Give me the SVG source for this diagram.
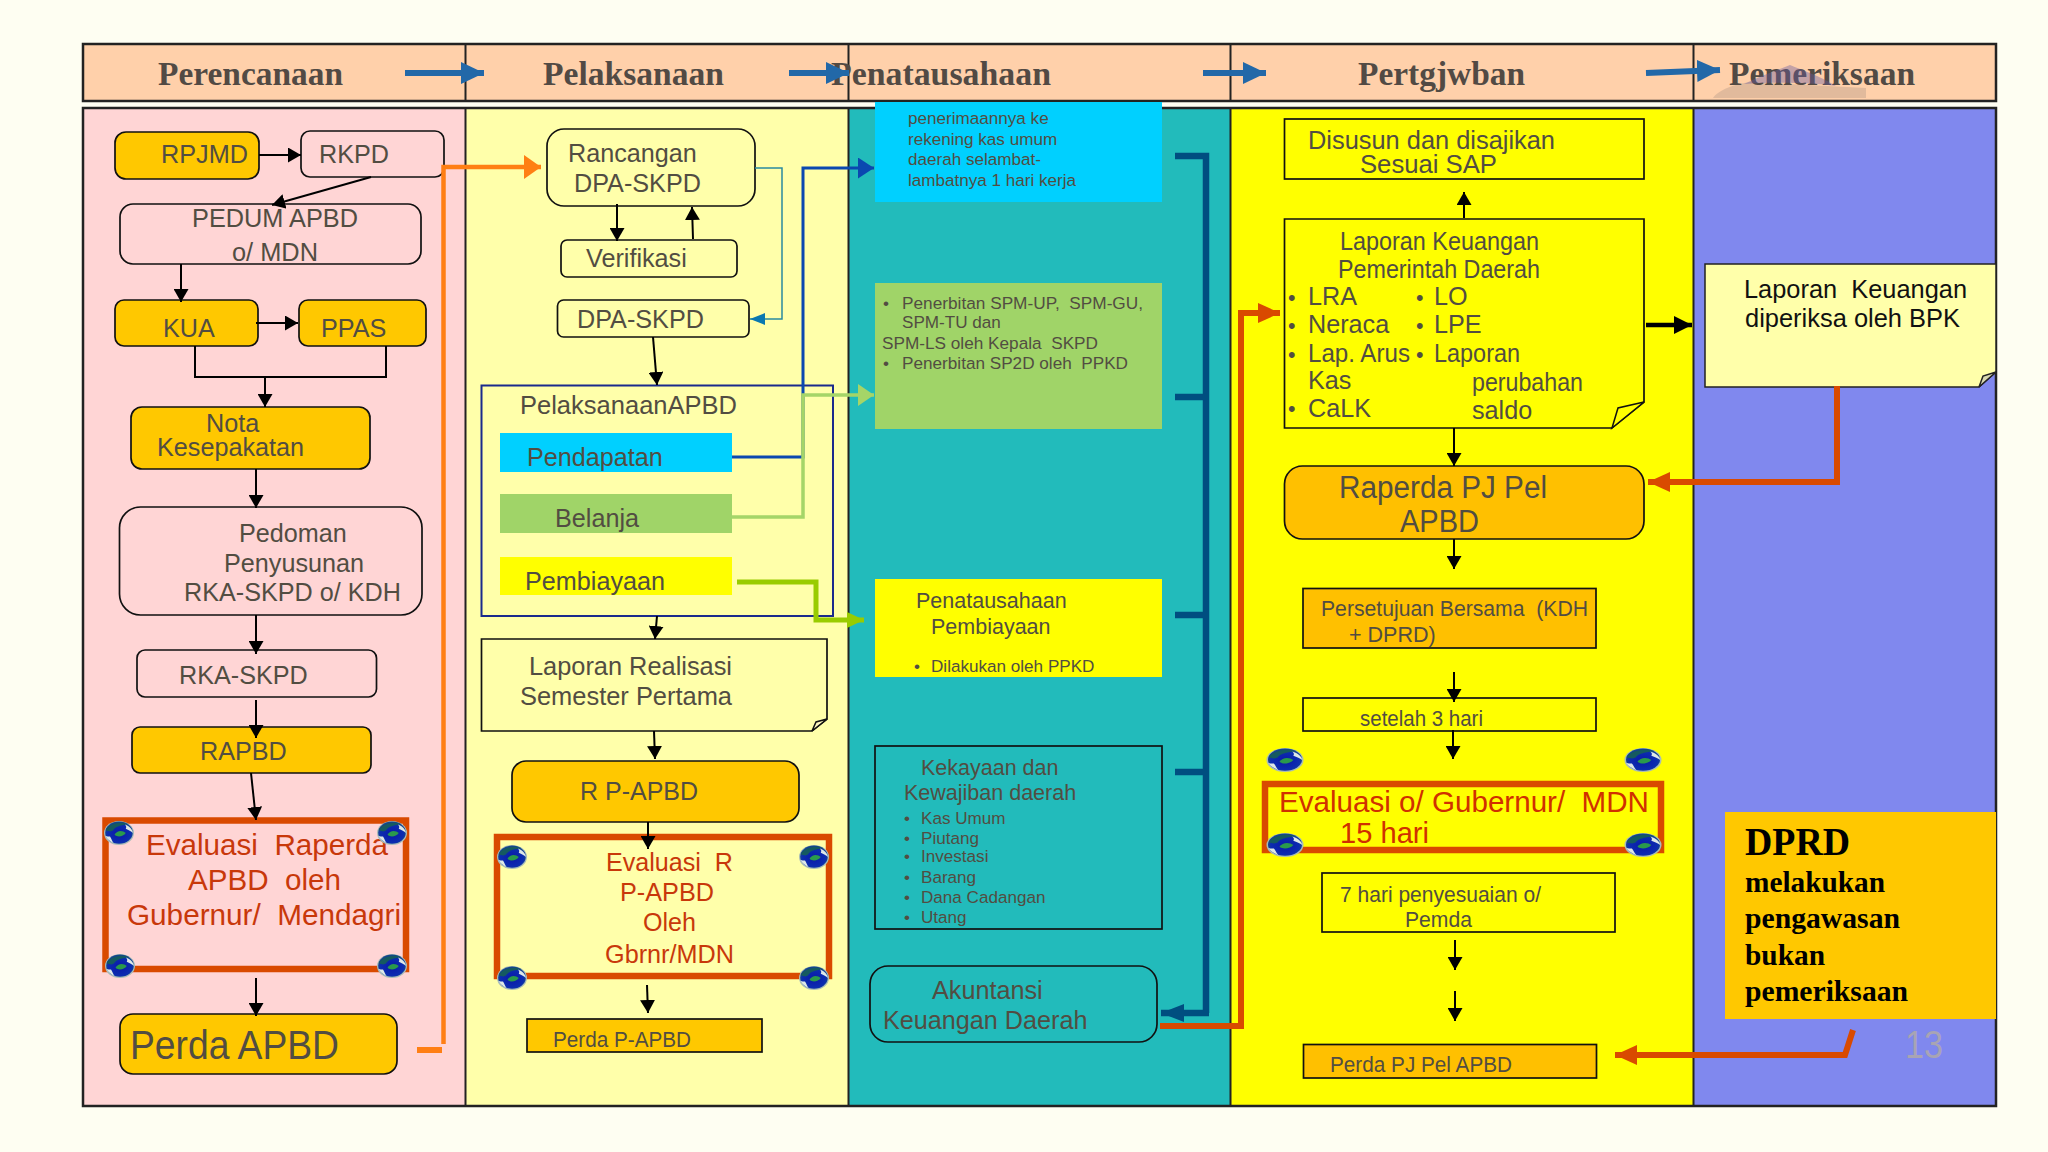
<svg xmlns="http://www.w3.org/2000/svg" width="2048" height="1152" viewBox="0 0 2048 1152">
<style>
text{font-family:"Liberation Sans",Arial,sans-serif;fill:#524d42;white-space:pre}
.s26{font-size:25.2px}.s22{font-size:21.5px}.s17{font-size:17.1px}.s30{font-size:30px}
.hd{font-family:"Liberation Serif","Times New Roman",serif;font-weight:bold;font-size:34px;fill:#524a44}
.dp{font-family:"Liberation Serif","Times New Roman",serif;font-weight:bold;font-size:30px;fill:#000}
.red{fill:#c8380a}.blk{fill:#111}
.box{stroke:#111;stroke-width:1.700;fill:none}
.gold{stroke:#111;stroke-width:1.700;fill:#ffc800}
.ev{stroke:#d94a00;stroke-width:6.500;fill:none}
.ln{stroke:#000;stroke-width:2;fill:none;marker-end:url(#ah)}
.pl{stroke:#000;stroke-width:2;fill:none}
.flap{fill:#fff8c0;stroke:#111;stroke-width:1.500}
</style>
<defs>
<marker id="ah" markerUnits="userSpaceOnUse" markerWidth="13" markerHeight="15" viewBox="0 0 13 15" refX="13" refY="7.500" orient="auto"><path d="M0 0L13 7.500L0 15Z" fill="#000"/></marker>
<marker id="ahHd" markerUnits="userSpaceOnUse" markerWidth="23" markerHeight="22" viewBox="0 0 23 22" refX="23" refY="11" orient="auto"><path d="M0 0L23 11L0 22Z" fill="#2268a8"/></marker>
<marker id="ahOr" markerUnits="userSpaceOnUse" markerWidth="17" markerHeight="24" viewBox="0 0 17 24" refX="17" refY="12" orient="auto"><path d="M0 0L17 12L0 24Z" fill="#ff7f14"/></marker>
<marker id="ahBl" markerUnits="userSpaceOnUse" markerWidth="16" markerHeight="21" viewBox="0 0 16 21" refX="16" refY="10.500" orient="auto"><path d="M0 0L16 10.500L0 21Z" fill="#0a48b0"/></marker>
<marker id="ahTl" markerUnits="userSpaceOnUse" markerWidth="15" markerHeight="12" viewBox="0 0 15 12" refX="15" refY="6" orient="auto"><path d="M0 0L15 6L0 12Z" fill="#0a78b0"/></marker>
<marker id="ahGr" markerUnits="userSpaceOnUse" markerWidth="16" markerHeight="22" viewBox="0 0 16 22" refX="16" refY="11" orient="auto"><path d="M0 0L16 11L0 22Z" fill="#a5d568"/></marker>
<marker id="ahLm" markerUnits="userSpaceOnUse" markerWidth="17" markerHeight="16" viewBox="0 0 17 16" refX="17" refY="8" orient="auto"><path d="M0 0L17 8L0 16Z" fill="#99cc00"/></marker>
<marker id="ahRd" markerUnits="userSpaceOnUse" markerWidth="22" markerHeight="20" viewBox="0 0 22 20" refX="22" refY="10" orient="auto"><path d="M0 0L22 10L0 20Z" fill="#d94a00"/></marker>
<marker id="ahNv" markerUnits="userSpaceOnUse" markerWidth="23" markerHeight="18" viewBox="0 0 23 18" refX="23" refY="9" orient="auto"><path d="M0 0L23 9L0 18Z" fill="#004e80"/></marker>
<marker id="ahBk" markerUnits="userSpaceOnUse" markerWidth="18" markerHeight="18" viewBox="0 0 18 18" refX="18" refY="9" orient="auto"><path d="M0 0L18 9L0 18Z" fill="#000"/></marker>
<radialGradient id="gl" cx="0.5" cy="0.55" r="0.55"><stop offset="0" stop-color="#0a18a8"/><stop offset="0.75" stop-color="#0c2cb0"/><stop offset="1" stop-color="#184c84"/></radialGradient>
<g id="globe"><circle r="10" fill="#a8bcb8"/><circle cy="-0.300" r="9.200" fill="url(#gl)"/><path d="M-8.800-2.500C-6-8.500 2-10 6-7C2-7-3-5-4-2C-5-1-7-1-8.800-2.500Z" fill="#155a60"/><path d="M-3 1.500C-1.500-2.500 2.500-2.500 4.500 0C3 3-1 4-3 1.500Z" fill="#2a9a4c"/><path d="M4-7C7-5.500 9-3 9.300 0C8-1.500 6.500-2.500 4.500-3.500C5-4.500 5-5.500 4-7Z" fill="#dfe9e6"/><path d="M-9 2.500C-8 5-6 7-3.500 8.500C-5 6.500-5 4.500-6 3C-7 3-8 3-9 2.500Z" fill="#dfe9e6"/></g>
</defs>
<rect id="page" width="2048" height="1152" fill="#fefef2"/>

<g id="header">
<rect x="83" y="44" width="1913" height="57" fill="#ffd0aa" stroke="#222" stroke-width="2.500"/>
<path d="M465.500 44V101M848.500 44V101M1230.500 44V101M1693.500 44V101" stroke="#222" stroke-width="2"/>
<path d="M1713 98C1718 90 1735 84 1750 82L1866 88L1866 98Z" fill="#c8a890" opacity="0.55"/>
<text class="hd" x="158" y="85" textLength="185" lengthAdjust="spacingAndGlyphs">Perencanaan</text>
<text class="hd" x="543" y="85" textLength="181" lengthAdjust="spacingAndGlyphs">Pelaksanaan</text>
<text class="hd" x="831" y="85" textLength="220" lengthAdjust="spacingAndGlyphs">Penatausahaan</text>
<text class="hd" x="1358" y="85" textLength="167" lengthAdjust="spacingAndGlyphs">Pertgjwban</text>
<text class="hd" x="1729" y="85" textLength="186" lengthAdjust="spacingAndGlyphs">Pemeriksaan</text>
<path d="M1744 84C1760 76 1778 70 1790 65C1802 70 1820 76 1836 86C1810 82 1770 82 1744 84Z" fill="#6a5aa0" opacity="0.4"/>
</g>

<g id="columns">
<rect x="83" y="108" width="383" height="998" fill="#ffd5d5"/>
<rect x="466" y="108" width="383" height="998" fill="#ffffaa"/>
<rect x="849" y="108" width="382" height="998" fill="#22bbbb"/>
<rect x="1231" y="108" width="463" height="998" fill="#ffff00"/>
<rect x="1694" y="108" width="302" height="998" fill="#8088ee"/>
<rect x="83" y="108" width="1913" height="998" fill="none" stroke="#222" stroke-width="2.500"/>
<path d="M465.500 108V1106M848.500 108V1106M1230.500 108V1106M1693.500 108V1106" stroke="#222" stroke-width="2"/>
</g>

<g id="n-rpjmd"><rect class="gold" x="115" y="132" width="144" height="47" rx="11"/><text class="s26" x="161" y="163" textLength="87" lengthAdjust="spacingAndGlyphs">RPJMD</text></g>
<g id="n-rkpd"><rect class="box" x="301" y="131" width="143" height="46" rx="9"/><text class="s26" x="319" y="163">RKPD</text></g>
<g id="n-pedum"><rect class="box" x="120" y="204" width="301" height="60" rx="13"/><text class="s26" x="192" y="227" textLength="166" lengthAdjust="spacingAndGlyphs">PEDUM APBD</text><text class="s26" x="232" y="261" textLength="86" lengthAdjust="spacingAndGlyphs">o/ MDN</text></g>
<g id="n-kua"><rect class="gold" x="115" y="300" width="143" height="46" rx="9"/><text class="s26" x="163" y="337">KUA</text></g>
<g id="n-ppas"><rect class="gold" x="299" y="300" width="127" height="46" rx="9"/><text class="s26" x="321" y="337">PPAS</text></g>
<g id="n-nota"><rect class="gold" x="131" y="407" width="239" height="62" rx="11"/><text class="s26" x="206" y="432">Nota</text><text class="s26" x="157" y="456">Kesepakatan</text></g>
<g id="n-pedoman"><rect class="box" x="119.500" y="507" width="302.500" height="108" rx="21"/><text class="s26" x="239" y="542">Pedoman</text><text class="s26" x="224" y="572">Penyusunan</text><text class="s26" x="184" y="601">RKA-SKPD o/ KDH</text></g>
<g id="n-rka"><rect class="box" x="137" y="650" width="239.500" height="47" rx="8"/><text class="s26" x="179" y="684">RKA-SKPD</text></g>
<g id="n-rapbd"><rect class="gold" x="132" y="727" width="239" height="46" rx="8"/><text class="s26" x="200" y="760">RAPBD</text></g>
<g id="n-eval1"><rect class="ev" x="105.500" y="820.500" width="300.500" height="148.500"/><text class="s30 red" x="146" y="855" textLength="242" lengthAdjust="spacingAndGlyphs">Evaluasi  Raperda</text><text class="s30 red" x="188" y="890" textLength="153" lengthAdjust="spacingAndGlyphs">APBD  oleh</text><text class="s30 red" x="127" y="925" textLength="274" lengthAdjust="spacingAndGlyphs">Gubernur/  Mendagri</text>
<use href="#globe" transform="translate(119 833) scale(1.5 1.2)"/><use href="#globe" transform="translate(392 833) scale(1.5 1.2)"/><use href="#globe" transform="translate(120 966) scale(1.5 1.2)"/><use href="#globe" transform="translate(392 966) scale(1.5 1.2)"/></g>
<g id="n-perda"><rect class="gold" x="120" y="1014" width="277" height="60" rx="13"/><text x="130" y="1059" font-size="40" textLength="209" lengthAdjust="spacingAndGlyphs">Perda APBD</text></g>

<g id="n-rancangan"><rect class="box" x="547" y="129" width="208" height="77" rx="17"/><text class="s26" x="568" y="162">Rancangan</text><text class="s26" x="574" y="192">DPA-SKPD</text></g>
<g id="n-verif"><rect class="box" x="561" y="240" width="176" height="37" rx="6"/><text class="s26" x="586" y="267">Verifikasi</text></g>
<g id="n-dpa"><rect class="box" x="557.500" y="300" width="191.500" height="37" rx="6"/><text class="s26" x="577" y="328">DPA-SKPD</text></g>
<g id="n-pelaksanaan"><rect x="481.500" y="385.500" width="351.500" height="230.500" fill="none" stroke="#1a2a8c" stroke-width="2"/><text class="s26" x="520" y="414" textLength="217" lengthAdjust="spacingAndGlyphs">PelaksanaanAPBD</text>
<rect x="500" y="433" width="232" height="39" fill="#00d0ff"/><text class="s26" x="527" y="466">Pendapatan</text>
<rect x="500" y="494" width="232" height="39" fill="#a0d468"/><text class="s26" x="555" y="527">Belanja</text>
<rect x="500" y="557" width="232" height="38" fill="#ffff00"/><text class="s26" x="525" y="590">Pembiayaan</text></g>
<g id="n-realisasi"><path class="box" d="M481.500 639H827V719L812 731H481.500Z"/><path class="flap" d="M812 731L816 722L827 719Z"/><text class="s26" x="529" y="675" textLength="203" lengthAdjust="spacingAndGlyphs">Laporan Realisasi</text><text class="s26" x="520" y="705" textLength="212" lengthAdjust="spacingAndGlyphs">Semester Pertama</text></g>
<g id="n-rp"><rect class="gold" x="512" y="761" width="287" height="61" rx="14"/><text class="s26" x="580" y="800" textLength="118" lengthAdjust="spacingAndGlyphs">R P-APBD</text></g>
<g id="n-eval2"><rect class="ev" x="497" y="837" width="332" height="139"/><text class="s26 red" x="606" y="871" textLength="127" lengthAdjust="spacingAndGlyphs">Evaluasi  R</text><text class="s26 red" x="620" y="901" textLength="94" lengthAdjust="spacingAndGlyphs">P-APBD</text><text class="s26 red" x="643" y="931" textLength="53" lengthAdjust="spacingAndGlyphs">Oleh</text><text class="s26 red" x="605" y="963" textLength="129" lengthAdjust="spacingAndGlyphs">Gbrnr/MDN</text>
<use href="#globe" transform="translate(512 857) scale(1.5 1.2)"/><use href="#globe" transform="translate(814 857) scale(1.5 1.2)"/><use href="#globe" transform="translate(512 978) scale(1.5 1.2)"/><use href="#globe" transform="translate(814 978) scale(1.5 1.2)"/></g>
<g id="n-perdap"><rect class="gold" x="527" y="1019" width="235" height="33"/><text class="s22" x="553" y="1047" textLength="138" lengthAdjust="spacingAndGlyphs">Perda P-APBD</text></g>

<g id="n-cyan"><rect x="875" y="102" width="287" height="100" fill="#00d0ff"/><text class="s17" x="908" y="124">penerimaannya ke</text><text class="s17" x="908" y="145">rekening kas umum</text><text class="s17" x="908" y="165">daerah selambat-</text><text class="s17" x="908" y="186" textLength="168" lengthAdjust="spacingAndGlyphs">lambatnya 1 hari kerja</text></g>
<g id="n-green"><rect x="875" y="283" width="287" height="146" fill="#a0d468"/><text class="s17" x="883" y="309">•</text><text class="s17" x="902" y="309" textLength="241" lengthAdjust="spacingAndGlyphs">Penerbitan SPM-UP,  SPM-GU,</text><text class="s17" x="902" y="328">SPM-TU dan</text><text class="s17" x="882" y="349" textLength="216" lengthAdjust="spacingAndGlyphs">SPM-LS oleh Kepala  SKPD</text><text class="s17" x="883" y="369">•</text><text class="s17" x="902" y="369" textLength="226" lengthAdjust="spacingAndGlyphs">Penerbitan SP2D oleh  PPKD</text></g>
<g id="n-yellow"><rect x="875" y="579" width="287" height="98" fill="#ffff00"/><text class="s22" x="916" y="608">Penatausahaan</text><text class="s22" x="931" y="634">Pembiayaan</text><text class="s17" x="914" y="672">•</text><text class="s17" x="931" y="672">Dilakukan oleh PPKD</text></g>
<g id="n-kekayaan"><rect class="box" x="875" y="746" width="287" height="183"/><text class="s22" x="921" y="775">Kekayaan dan</text><text class="s22" x="904" y="800">Kewajiban daerah</text>
<text class="s17" x="904" y="824">•</text><text class="s17" x="921" y="824">Kas Umum</text><text class="s17" x="904" y="844">•</text><text class="s17" x="921" y="844">Piutang</text><text class="s17" x="904" y="862">•</text><text class="s17" x="921" y="862">Investasi</text><text class="s17" x="904" y="883">•</text><text class="s17" x="921" y="883">Barang</text><text class="s17" x="904" y="903">•</text><text class="s17" x="921" y="903">Dana Cadangan</text><text class="s17" x="904" y="923">•</text><text class="s17" x="921" y="923">Utang</text></g>
<g id="n-akuntansi"><rect class="box" x="870" y="966" width="287" height="76" rx="18"/><text class="s26" x="932" y="999">Akuntansi</text><text class="s26" x="883" y="1029">Keuangan Daerah</text></g>

<g id="n-disusun"><rect class="box" x="1284.500" y="119" width="359.500" height="60"/><text class="s26" x="1308" y="149" textLength="247" lengthAdjust="spacingAndGlyphs">Disusun dan disajikan</text><text class="s26" x="1360" y="173" textLength="137" lengthAdjust="spacingAndGlyphs">Sesuai SAP</text></g>
<g id="n-lk"><path class="box" d="M1284.500 219H1644V402L1612 428H1284.500Z"/><path class="flap" d="M1612 428L1618 408L1644 402Z" style="fill:#ffff00"/>
<text class="s26" x="1340" y="250" textLength="199" lengthAdjust="spacingAndGlyphs">Laporan Keuangan</text><text class="s26" x="1338" y="278" textLength="202" lengthAdjust="spacingAndGlyphs">Pemerintah Daerah</text>
<text class="s22" x="1288" y="305">•</text><text class="s26" x="1308" y="305">LRA</text><text class="s22" x="1416" y="305">•</text><text class="s26" x="1434" y="305">LO</text>
<text class="s22" x="1288" y="333">•</text><text class="s26" x="1308" y="333">Neraca</text><text class="s22" x="1416" y="333">•</text><text class="s26" x="1434" y="333">LPE</text>
<text class="s22" x="1288" y="362">•</text><text class="s26" x="1308" y="362" textLength="102" lengthAdjust="spacingAndGlyphs">Lap. Arus</text><text class="s22" x="1416" y="362">•</text><text class="s26" x="1434" y="362" textLength="86" lengthAdjust="spacingAndGlyphs">Laporan</text>
<text class="s26" x="1308" y="389">Kas</text><text class="s26" x="1472" y="391" textLength="111" lengthAdjust="spacingAndGlyphs">perubahan</text>
<text class="s22" x="1288" y="416">•</text><text class="s26" x="1308" y="417">CaLK</text><text class="s26" x="1472" y="419">saldo</text></g>
<g id="n-raperda"><rect class="box" x="1284.500" y="466" width="359.500" height="73" rx="18" style="fill:#ffc000"/><text x="1339" y="498" font-size="31" textLength="208" lengthAdjust="spacingAndGlyphs">Raperda PJ Pel</text><text x="1400" y="532" font-size="31" textLength="79" lengthAdjust="spacingAndGlyphs">APBD</text></g>
<g id="n-persetujuan"><rect class="box" x="1303" y="588.500" width="293" height="59.500" style="fill:#ffc000"/><text class="s22" x="1321" y="616" textLength="267" lengthAdjust="spacingAndGlyphs">Persetujuan Bersama  (KDH</text><text class="s22" x="1349" y="642">+ DPRD)</text></g>
<g id="n-setelah"><rect class="box" x="1303" y="698" width="293" height="33"/><text class="s22" x="1360" y="726" textLength="123" lengthAdjust="spacingAndGlyphs">setelah 3 hari</text></g>
<g id="n-eval3"><rect class="ev" x="1265" y="784" width="396" height="66"/><text class="s30" style="fill:#d03000" x="1279" y="812" textLength="370" lengthAdjust="spacingAndGlyphs">Evaluasi o/ Gubernur/  MDN</text><text class="s30" style="fill:#d03000" x="1340" y="843" textLength="89" lengthAdjust="spacingAndGlyphs">15 hari</text>
<use href="#globe" transform="translate(1285 760) scale(1.850 1.200)"/><use href="#globe" transform="translate(1643 760) scale(1.850 1.200)"/><use href="#globe" transform="translate(1285 845) scale(1.850 1.200)"/><use href="#globe" transform="translate(1643 845) scale(1.850 1.200)"/></g>
<g id="n-tujuh"><rect class="box" x="1322" y="873" width="293" height="59"/><text class="s22" x="1340" y="902" textLength="201" lengthAdjust="spacingAndGlyphs">7 hari penyesuaian o/</text><text class="s22" x="1405" y="927" textLength="67" lengthAdjust="spacingAndGlyphs">Pemda</text></g>
<g id="n-perdapj"><rect class="box" x="1303.500" y="1044.500" width="293" height="33.500" style="fill:#ffc000"/><text class="s22" x="1330" y="1072" textLength="182" lengthAdjust="spacingAndGlyphs">Perda PJ Pel APBD</text></g>

<g id="n-bpk"><path d="M1705 264H1996V372L1979 387H1705Z" fill="#ffffaa" stroke="#222" stroke-width="1.500"/><path d="M1979 387L1983 376L1996 372Z" fill="#d8d8b0" stroke="#222" stroke-width="1.500"/><text class="s26 blk" x="1744" y="298" textLength="223" lengthAdjust="spacingAndGlyphs">Laporan  Keuangan</text><text class="s26 blk" x="1745" y="327" textLength="215" lengthAdjust="spacingAndGlyphs">diperiksa oleh BPK</text></g>
<g id="n-dprd"><rect x="1725" y="812" width="271" height="207" fill="#ffc800"/><text class="dp" x="1745" y="855" style="font-size:40px" textLength="105" lengthAdjust="spacingAndGlyphs">DPRD</text><text class="dp" x="1745" y="892" textLength="140" lengthAdjust="spacingAndGlyphs">melakukan</text><text class="dp" x="1745" y="928" textLength="155" lengthAdjust="spacingAndGlyphs">pengawasan</text><text class="dp" x="1745" y="965" textLength="80" lengthAdjust="spacingAndGlyphs">bukan</text><text class="dp" x="1745" y="1001" textLength="163" lengthAdjust="spacingAndGlyphs">pemeriksaan</text></g>
<text id="pagenum" x="1905" y="1058" font-size="38" style="fill:#a8a4b4" textLength="38" lengthAdjust="spacingAndGlyphs">13</text>

<g id="connectors">
<path d="M405 73H484" stroke="#2268a8" stroke-width="6" fill="none" marker-end="url(#ahHd)"/>
<path d="M789 73H849" stroke="#2268a8" stroke-width="6" fill="none" marker-end="url(#ahHd)"/>
<path d="M1203 73H1266" stroke="#2268a8" stroke-width="6" fill="none" marker-end="url(#ahHd)"/>
<path d="M1646 73L1720 70" stroke="#2268a8" stroke-width="6" fill="none" marker-end="url(#ahHd)"/>
<path class="ln" d="M259 155H301"/><path class="ln" d="M371 177L272 205"/><path class="ln" d="M181 264V302"/><path class="ln" d="M256 323H298"/>
<path class="pl" d="M195 346V377H386V346"/><path class="ln" d="M265 377V407"/><path class="ln" d="M256 469V508"/><path class="ln" d="M256 615V654"/><path class="ln" d="M256 700V738"/>
<path class="ln" d="M251 773L256 820"/><path class="ln" d="M256 978V1016"/>
<path d="M417 1050H442" stroke="#ff7f14" stroke-width="6" fill="none"/>
<path d="M443.500 1044V167H541" stroke="#ff7f14" stroke-width="4.500" fill="none" marker-end="url(#ahOr)"/>
<path class="ln" d="M617 204V241"/><path class="ln" d="M693 239L692 207"/>
<path d="M755 168H782V319H750" stroke="#2a8aa0" stroke-width="1.500" fill="none" marker-end="url(#ahTl)"/>
<path class="ln" d="M653 337L657 385"/>
<path d="M732 457H803V168H874" stroke="#0a48b0" stroke-width="3" fill="none" marker-end="url(#ahBl)"/>
<path d="M732 517H803V395H874" stroke="#a5d568" stroke-width="3.500" fill="none" marker-end="url(#ahGr)"/>
<path d="M737 582H816V620H864" stroke="#99cc00" stroke-width="5" fill="none" marker-end="url(#ahLm)"/>
<path class="ln" d="M657 616L655 639"/><path class="ln" d="M654 731L655 759"/><path class="ln" d="M648 822V849"/><path class="ln" d="M647 985L648 1013"/>
<path d="M1175 156H1206V1013" stroke="#004e80" stroke-width="6.500" fill="none"/>
<path d="M1175 397H1206M1175 615H1206M1175 772H1206" stroke="#004e80" stroke-width="6.500" fill="none"/>
<path d="M1209 1013H1161" stroke="#004e80" stroke-width="6.500" fill="none" marker-end="url(#ahNv)"/>
<path d="M1160 1026H1241V313H1280" stroke="#d94a00" stroke-width="6" fill="none" marker-end="url(#ahRd)"/>
<path class="ln" d="M1464 218V192"/>
<path d="M1646 325H1692" stroke="#000" stroke-width="4.500" fill="none" marker-end="url(#ahBk)"/>
<path class="ln" d="M1454 428V466"/>
<path d="M1837 386V482H1648" stroke="#d94a00" stroke-width="6" fill="none" marker-end="url(#ahRd)"/>
<path class="ln" d="M1454 539V569"/><path class="ln" d="M1454 672V702"/><path class="ln" d="M1453 730V759"/><path class="ln" d="M1455 940V970"/><path class="ln" d="M1455 991V1021"/>
<path d="M1853 1030L1845 1055H1615" stroke="#d94a00" stroke-width="6" fill="none" marker-end="url(#ahRd)"/>
</g>
</svg>
